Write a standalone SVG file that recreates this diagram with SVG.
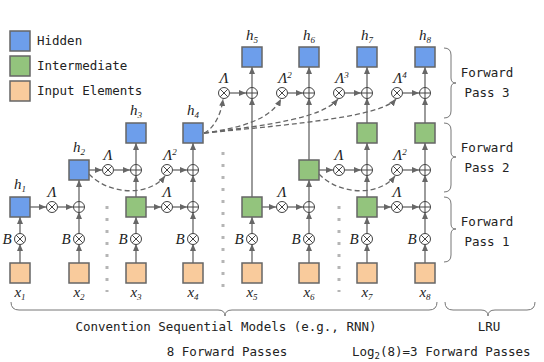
<svg xmlns="http://www.w3.org/2000/svg" xmlns:xlink="http://www.w3.org/1999/xlink" width="544" height="362" viewBox="0 0 544 362">
<style>
.hid{fill:#6d9eeb;stroke:#666;stroke-width:1.5}
.int{fill:#93c47d;stroke:#666;stroke-width:1.5}
.inp{fill:#f9cb9c;stroke:#666;stroke-width:1.5}
.mono{font-family:"DejaVu Sans Mono","Liberation Mono",monospace;font-size:12.5px;fill:#222}
.it{font-family:"Liberation Serif","Times New Roman",serif;font-style:italic;font-size:15px;fill:#222}
.sub{font-size:9px}
.ln{stroke:#666;stroke-width:1.3;fill:none;marker-end:url(#ah)}
.dl{stroke:#666;stroke-width:1.3;fill:none;stroke-dasharray:5 3;marker-end:url(#ah)}
.dot{stroke:#b5b5b5;stroke-width:3;stroke-dasharray:3 9;fill:none}
.br{stroke:#777;stroke-width:1;fill:none}
.op circle{fill:#fff;stroke:#444;stroke-width:1}
.op line{stroke:#444;stroke-width:1}
</style>
<defs>
<marker id="ah" markerUnits="userSpaceOnUse" markerWidth="7" markerHeight="6" refX="7" refY="3" orient="auto">
<path d="M0,0 L7,3 L0,6 z" fill="#666"/>
</marker>
<g id="ot" class="op"><circle r="5.5"/><line x1="-3.8" y1="-3.8" x2="3.8" y2="3.8"/><line x1="-3.8" y1="3.8" x2="3.8" y2="-3.8"/></g>
<g id="op" class="op"><circle r="5.5"/><line x1="-5.5" y1="0" x2="5.5" y2="0"/><line x1="0" y1="-5.5" x2="0" y2="5.5"/></g>
</defs>

<!-- legend -->
<g id="legend">
<rect class="hid" x="10" y="31" width="20" height="20"/>
<text class="mono" x="37" y="45">Hidden</text>
<rect class="int" x="10" y="56" width="20" height="20"/>
<text class="mono" x="37" y="70">Intermediate</text>
<rect class="inp" x="10" y="81" width="20" height="20"/>
<text class="mono" x="37" y="95">Input Elements</text>
</g>

<!-- dotted separators -->
<g id="separators">
<line class="dot" x1="107" y1="206" x2="107" y2="292"/>
<line class="dot" x1="223" y1="152" x2="223" y2="292"/>
<line class="dot" x1="339" y1="206" x2="339" y2="292"/>
</g>

<!-- connectors -->
<g id="connectors">
<line class="ln" x1="20" y1="263" x2="20" y2="244"/>
<line class="ln" x1="79" y1="263" x2="79" y2="244"/>
<line class="ln" x1="136" y1="263" x2="136" y2="244"/>
<line class="ln" x1="193" y1="263" x2="193" y2="244"/>
<line class="ln" x1="252" y1="263" x2="252" y2="244"/>
<line class="ln" x1="309" y1="263" x2="309" y2="244"/>
<line class="ln" x1="367" y1="263" x2="367" y2="244"/>
<line class="ln" x1="425" y1="263" x2="425" y2="244"/>
<line class="ln" x1="20" y1="234" x2="20" y2="217"/>
<line class="ln" x1="30" y1="207" x2="46" y2="207"/>
<line class="ln" x1="58" y1="207" x2="73" y2="207"/>
<line class="ln" x1="79" y1="234" x2="79" y2="212"/>
<line class="ln" x1="79" y1="202" x2="79" y2="180"/>
<line class="ln" x1="89" y1="170" x2="102" y2="170"/>
<line class="ln" x1="114" y1="170" x2="130" y2="170"/>
<line class="ln" x1="136" y1="234" x2="136" y2="217"/>
<line class="ln" x1="136" y1="197" x2="136" y2="175"/>
<line class="ln" x1="136" y1="165" x2="136" y2="143"/>
<line class="ln" x1="146" y1="207" x2="161" y2="207"/>
<line class="ln" x1="173" y1="207" x2="187" y2="207"/>
<line class="ln" x1="193" y1="234" x2="193" y2="212"/>
<line class="ln" x1="193" y1="202" x2="193" y2="175"/>
<line class="ln" x1="173" y1="170" x2="187" y2="170"/>
<line class="ln" x1="193" y1="165" x2="193" y2="143"/>
<line class="ln" x1="252" y1="234" x2="252" y2="217"/>
<line class="ln" x1="252" y1="197" x2="252" y2="98"/>
<line class="ln" x1="252" y1="88" x2="252" y2="67"/>
<line class="ln" x1="230" y1="93" x2="246" y2="93"/>
<line class="ln" x1="262" y1="207" x2="276" y2="207"/>
<line class="ln" x1="288" y1="207" x2="303" y2="207"/>
<line class="ln" x1="309" y1="234" x2="309" y2="212"/>
<line class="ln" x1="309" y1="202" x2="309" y2="180"/>
<line class="ln" x1="309" y1="160" x2="309" y2="98"/>
<line class="ln" x1="288" y1="93" x2="303" y2="93"/>
<line class="ln" x1="309" y1="88" x2="309" y2="67"/>
<line class="ln" x1="319" y1="170" x2="333" y2="170"/>
<line class="ln" x1="345" y1="170" x2="361" y2="170"/>
<line class="ln" x1="367" y1="234" x2="367" y2="217"/>
<line class="ln" x1="367" y1="197" x2="367" y2="175"/>
<line class="ln" x1="367" y1="165" x2="367" y2="143"/>
<line class="ln" x1="367" y1="123" x2="367" y2="98"/>
<line class="ln" x1="345" y1="93" x2="361" y2="93"/>
<line class="ln" x1="367" y1="88" x2="367" y2="67"/>
<line class="ln" x1="377" y1="207" x2="391" y2="207"/>
<line class="ln" x1="403" y1="207" x2="419" y2="207"/>
<line class="ln" x1="425" y1="234" x2="425" y2="212"/>
<line class="ln" x1="425" y1="202" x2="425" y2="175"/>
<line class="ln" x1="403" y1="170" x2="419" y2="170"/>
<line class="ln" x1="425" y1="165" x2="425" y2="143"/>
<line class="ln" x1="425" y1="123" x2="425" y2="98"/>
<line class="ln" x1="403" y1="93" x2="419" y2="93"/>
<line class="ln" x1="425" y1="88" x2="425" y2="67"/>
<path class="dl" d="M89,174 C110,196 150,196 165,176"/>
<path class="dl" d="M319,174 C340,196 380,196 395,176"/>
<path class="dl" d="M204,133 C213,129 221,116 223,99"/>
<path class="dl" d="M204,133 C240,128 270,120 281,99"/>
<path class="dl" d="M204,133 C270,125 322,118 338,99"/>
<path class="dl" d="M204,133 C300,124 382,116 396,99"/>
</g>

<!-- operators -->
<g id="ops">
<use xlink:href="#ot" x="20" y="239"/><use xlink:href="#ot" x="79" y="239"/><use xlink:href="#ot" x="136" y="239"/><use xlink:href="#ot" x="193" y="239"/>
<use xlink:href="#ot" x="252" y="239"/><use xlink:href="#ot" x="309" y="239"/><use xlink:href="#ot" x="367" y="239"/><use xlink:href="#ot" x="425" y="239"/>
<use xlink:href="#ot" x="52" y="207"/><use xlink:href="#op" x="79" y="207"/>
<use xlink:href="#ot" x="108" y="170"/><use xlink:href="#op" x="136" y="170"/>
<use xlink:href="#ot" x="167" y="207"/><use xlink:href="#op" x="193" y="207"/>
<use xlink:href="#ot" x="167" y="170"/><use xlink:href="#op" x="193" y="170"/>
<use xlink:href="#ot" x="224" y="93"/><use xlink:href="#op" x="252" y="93"/>
<use xlink:href="#ot" x="282" y="207"/><use xlink:href="#op" x="309" y="207"/>
<use xlink:href="#ot" x="282" y="93"/><use xlink:href="#op" x="309" y="93"/>
<use xlink:href="#ot" x="339" y="170"/><use xlink:href="#op" x="367" y="170"/>
<use xlink:href="#ot" x="339" y="93"/><use xlink:href="#op" x="367" y="93"/>
<use xlink:href="#ot" x="397" y="207"/><use xlink:href="#op" x="425" y="207"/>
<use xlink:href="#ot" x="397" y="170"/><use xlink:href="#op" x="425" y="170"/>
<use xlink:href="#ot" x="397" y="93"/><use xlink:href="#op" x="425" y="93"/>
</g>

<!-- operator labels -->
<g id="op-labels" class="it" text-anchor="middle">
<text x="52" y="197">Λ</text>
<text x="108" y="160">Λ</text>
<text x="167" y="197">Λ</text>
<text x="170" y="160">Λ<tspan class="sub" dy="-5">2</tspan></text>
<text x="224" y="83">Λ</text>
<text x="285" y="83">Λ<tspan class="sub" dy="-5">2</tspan></text>
<text x="282" y="197">Λ</text>
<text x="339" y="160">Λ</text>
<text x="342" y="83">Λ<tspan class="sub" dy="-5">3</tspan></text>
<text x="397" y="197">Λ</text>
<text x="400" y="160">Λ<tspan class="sub" dy="-5">2</tspan></text>
<text x="400" y="83">Λ<tspan class="sub" dy="-5">4</tspan></text>
<text x="7" y="244">B</text><text x="66" y="244">B</text><text x="123" y="244">B</text><text x="180" y="244">B</text>
<text x="239" y="244">B</text><text x="296" y="244">B</text><text x="354" y="244">B</text><text x="412" y="244">B</text>
</g>

<!-- input nodes -->
<g id="x1"><rect class="inp" x="10" y="263" width="20" height="20"/><text class="it" x="20" y="297" text-anchor="middle">x<tspan class="sub" dy="3">1</tspan></text></g>
<g id="x2"><rect class="inp" x="69" y="263" width="20" height="20"/><text class="it" x="79" y="297" text-anchor="middle">x<tspan class="sub" dy="3">2</tspan></text></g>
<g id="x3"><rect class="inp" x="126" y="263" width="20" height="20"/><text class="it" x="136" y="297" text-anchor="middle">x<tspan class="sub" dy="3">3</tspan></text></g>
<g id="x4"><rect class="inp" x="183" y="263" width="20" height="20"/><text class="it" x="193" y="297" text-anchor="middle">x<tspan class="sub" dy="3">4</tspan></text></g>
<g id="x5"><rect class="inp" x="242" y="263" width="20" height="20"/><text class="it" x="252" y="297" text-anchor="middle">x<tspan class="sub" dy="3">5</tspan></text></g>
<g id="x6"><rect class="inp" x="299" y="263" width="20" height="20"/><text class="it" x="309" y="297" text-anchor="middle">x<tspan class="sub" dy="3">6</tspan></text></g>
<g id="x7"><rect class="inp" x="357" y="263" width="20" height="20"/><text class="it" x="367" y="297" text-anchor="middle">x<tspan class="sub" dy="3">7</tspan></text></g>
<g id="x8"><rect class="inp" x="415" y="263" width="20" height="20"/><text class="it" x="425" y="297" text-anchor="middle">x<tspan class="sub" dy="3">8</tspan></text></g>

<!-- intermediate nodes -->
<g id="g3"><rect class="int" x="126" y="197" width="20" height="20"/></g>
<g id="g5"><rect class="int" x="242" y="197" width="20" height="20"/></g>
<g id="g6"><rect class="int" x="299" y="160" width="20" height="20"/></g>
<g id="g7a"><rect class="int" x="357" y="197" width="20" height="20"/></g>
<g id="g7b"><rect class="int" x="357" y="123" width="20" height="20"/></g>
<g id="g8"><rect class="int" x="415" y="123" width="20" height="20"/></g>

<!-- hidden nodes -->
<g id="h1"><rect class="hid" x="10" y="197" width="20" height="20"/><text class="it" x="20" y="189" text-anchor="middle">h<tspan class="sub" dy="3">1</tspan></text></g>
<g id="h2"><rect class="hid" x="69" y="160" width="20" height="20"/><text class="it" x="79" y="152" text-anchor="middle">h<tspan class="sub" dy="3">2</tspan></text></g>
<g id="h3"><rect class="hid" x="126" y="123" width="20" height="20"/><text class="it" x="136" y="115" text-anchor="middle">h<tspan class="sub" dy="3">3</tspan></text></g>
<g id="h4"><rect class="hid" x="183" y="123" width="20" height="20"/><text class="it" x="193" y="115" text-anchor="middle">h<tspan class="sub" dy="3">4</tspan></text></g>
<g id="h5"><rect class="hid" x="242" y="47" width="20" height="20"/><text class="it" x="252" y="40" text-anchor="middle">h<tspan class="sub" dy="3">5</tspan></text></g>
<g id="h6"><rect class="hid" x="299" y="47" width="20" height="20"/><text class="it" x="309" y="40" text-anchor="middle">h<tspan class="sub" dy="3">6</tspan></text></g>
<g id="h7"><rect class="hid" x="357" y="47" width="20" height="20"/><text class="it" x="367" y="40" text-anchor="middle">h<tspan class="sub" dy="3">7</tspan></text></g>
<g id="h8"><rect class="hid" x="415" y="47" width="20" height="20"/><text class="it" x="425" y="40" text-anchor="middle">h<tspan class="sub" dy="3">8</tspan></text></g>

<!-- right braces -->
<g id="passes">
<path class="br" d="M444,48 Q451,48 451,55 V78 Q451,83 456,83 Q451,83 451,88 V111 Q451,118 444,118"/>
<path class="br" d="M444,123 Q451,123 451,130 V152 Q451,157 456,157 Q451,157 451,162 V185 Q451,192 444,192"/>
<path class="br" d="M444,197 Q451,197 451,204 V224 Q451,229 456,229 Q451,229 451,234 V255 Q451,262 444,262"/>
<text class="mono" x="487" y="77" text-anchor="middle">Forward</text>
<text class="mono" x="487" y="97" text-anchor="middle">Pass 3</text>
<text class="mono" x="487" y="152" text-anchor="middle">Forward</text>
<text class="mono" x="487" y="172" text-anchor="middle">Pass 2</text>
<text class="mono" x="487" y="226" text-anchor="middle">Forward</text>
<text class="mono" x="487" y="246" text-anchor="middle">Pass 1</text>
</g>

<!-- bottom braces -->
<g id="bottom">
<path class="br" d="M11,302 Q11,310 19,310 H218 Q225,310 225,316 Q225,310 232,310 H429 Q437,310 437,302"/>
<path class="br" d="M445,302 Q445,310 453,310 H481 Q488,310 488,316 Q488,310 495,310 H527 Q535,310 535,302"/>
<text class="mono" x="226" y="331" text-anchor="middle">Convention Sequential Models (e.g., RNN)</text>
<text class="mono" x="489" y="331" text-anchor="middle">LRU</text>
<text class="mono" x="227" y="356" text-anchor="middle">8 Forward Passes</text>
<text class="mono" x="352" y="356">Log<tspan class="sub" dy="3">2</tspan><tspan dy="-3">(8)=3 Forward Passes</tspan></text>
</g>
</svg>
